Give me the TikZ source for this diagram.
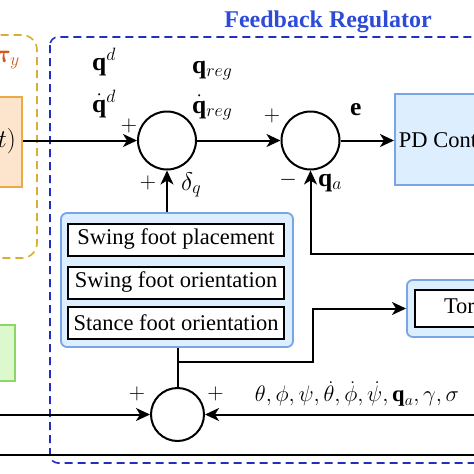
\RequirePackage{fix-cm}
\documentclass[tikz,border=0pt]{standalone}
\usepackage{amsmath}
\usepackage{bm}
\usepackage{fontspec}
\setmainfont{Liberation Serif}
\usetikzlibrary{arrows.meta}
\definecolor{bluedash}{RGB}{35,45,190}
\definecolor{titleblue}{RGB}{45,75,215}
\definecolor{lbfill}{RGB}{221,238,255}
\definecolor{lbdraw}{RGB}{120,165,230}
\definecolor{yellowdash}{RGB}{215,175,50}
\definecolor{orangetxt}{RGB}{210,90,30}
\definecolor{orfill}{RGB}{253,228,205}
\definecolor{ordraw}{RGB}{235,170,70}
\definecolor{grfill}{RGB}{220,248,205}
\definecolor{grdraw}{RGB}{140,215,100}
\tikzset{
  conn/.style={line width=2pt, draw=black},
  arr/.style={conn, -{Stealth[length=14pt,width=13pt,inset=4pt]}},
  sumnode/.style={circle, draw, line width=2pt, minimum size=58pt, inner sep=0pt},
  rowbox/.style={draw, fill=white, line width=2pt, minimum width=216pt, minimum height=32pt, inner sep=0pt},
  bluegroup/.style={draw=lbdraw, fill=lbfill, line width=1.8pt, rounded corners=6pt, inner sep=0pt},
  lbl/.style={inner sep=0pt},
  biglbl/.style={inner sep=0pt, font=\fontsize{25.5}{28}\selectfont},
}
\begin{document}
\begin{tikzpicture}[x=1pt,y=-1pt,font=\fontsize{22.5}{26}\selectfont]
\useasboundingbox (0,0) rectangle (474,474);
\clip (0,0) rectangle (474,474);
% group frames
\draw[yellowdash, line width=1.6pt, dash pattern=on 8pt off 5pt, rounded corners=15pt] (-30,35) rectangle (37,258);
\draw[bluedash, line width=1.6pt, dash pattern=on 8pt off 5pt, rounded corners=8pt] (50,37) rectangle (520,463);
\node[lbl, text=titleblue, font=\fontsize{24}{28}\selectfont\bfseries] (ttl) at (328,22) {Feedback Regulator};
\node[biglbl, text=orangetxt, anchor=base east] (piy) at (20,62) {$\bm{\pi}_y$};
% left boxes
\node[draw=ordraw, fill=orfill, line width=1.8pt, anchor=north east, minimum width=60pt, minimum height=90pt, inner sep=0pt] (pi) at (23,96) {};
\node[biglbl, anchor=east] (pit) at (16,141) {$t)$};
\node[draw=grdraw, fill=grfill, line width=1.8pt, anchor=north east, minimum width=50pt, minimum height=56pt, inner sep=0pt] (gr) at (16,324) {};
% summing junctions
\node[sumnode] (c1) at (167,140.5) {};
\node[sumnode] (c2) at (310.5,140.5) {};
\node[sumnode, minimum size=53pt] (c3) at (177.5,414.5) {};
% PD controller
\node[draw=lbdraw, fill=lbfill, line width=1.8pt, anchor=west, minimum height=91pt, inner xsep=4pt, inner ysep=0pt] (pd) at (394,139.5) {PD Controller};
% feedback regulator blocks
\node[bluegroup, minimum width=232pt, minimum height=134pt] (fb) at (177,280) {};
\node[rowbox] (r1) at (176,239.5) {Swing foot placement};
\node[rowbox] (r2) at (176,282.5) {Swing foot orientation};
\node[rowbox] (r3) at (176,323) {Stance foot orientation};
% torque
\node[bluegroup, anchor=west, minimum width=130pt, minimum height=57pt] (tq) at (406,308.5) {};
\node[rowbox, anchor=west, minimum width=0pt, minimum height=37pt, inner xsep=29pt] (tqi) at (414,308.5) {Torque};
% labels
\node[biglbl, anchor=base west] (lqd) at (92,70) {$\mathbf{q}^d$};
\node[biglbl, anchor=base west] (lqdd) at (92,112) {$\dot{\mathbf{q}}^d$};
\node[biglbl, anchor=base west] (lqr) at (192,73) {$\mathbf{q}_{reg}$};
\node[biglbl, anchor=base west] (lqrd) at (192,113) {$\dot{\mathbf{q}}_{reg}$};
\node[lbl] (p1) at (129,126) {$+$};
\node[lbl] (p2) at (148,182.5) {$+$};
\node[biglbl, anchor=base west] (ldq) at (181,190) {$\delta_q$};
\node[lbl] (p3) at (272,116) {$+$};
\node[biglbl, anchor=base west] (le) at (350,115) {$\mathbf{e}$};
\node[lbl] (m1) at (288,180) {$-$};
\node[biglbl, anchor=base west] (lqa) at (318,186) {$\mathbf{q}_a$};
\node[lbl] (p4) at (137,393.5) {$+$};
\node[lbl] (p5) at (215.5,393.5) {$+$};
\node[lbl] (lth) at (357,394) {$\theta,\phi,\psi,\dot\theta,\dot\phi,\dot\psi,\mathbf{q}_a,\gamma,\sigma$};
% connectors
\coordinate (qin) at (480,254);
\coordinate (j) at (177.5,362);
\coordinate (tb) at (313,308.5);
\coordinate (lin) at (-10,414.5);
\coordinate (rin) at (480,414.5);
\coordinate (bl) at (-10,455);
\coordinate (br) at (480,455);
\draw[arr] (c1 -| pi.east) -- (c1);
\draw[arr] (c1) -- (c2);
\draw[arr] (c2) -- (c2 -| pd.west);
\draw[arr] (fb.north -| c1) -- (c1);
\draw[arr] (qin) -| (c2);
\draw[conn] (c3) -- (fb.south -| c3);
\draw[arr] (j) -| (tb) -- (tq.west);
\draw[arr] (lin) -- (c3);
\draw[arr] (rin) -- (c3);
\draw[conn] (bl) -- (br);
\end{tikzpicture}
\end{document}
